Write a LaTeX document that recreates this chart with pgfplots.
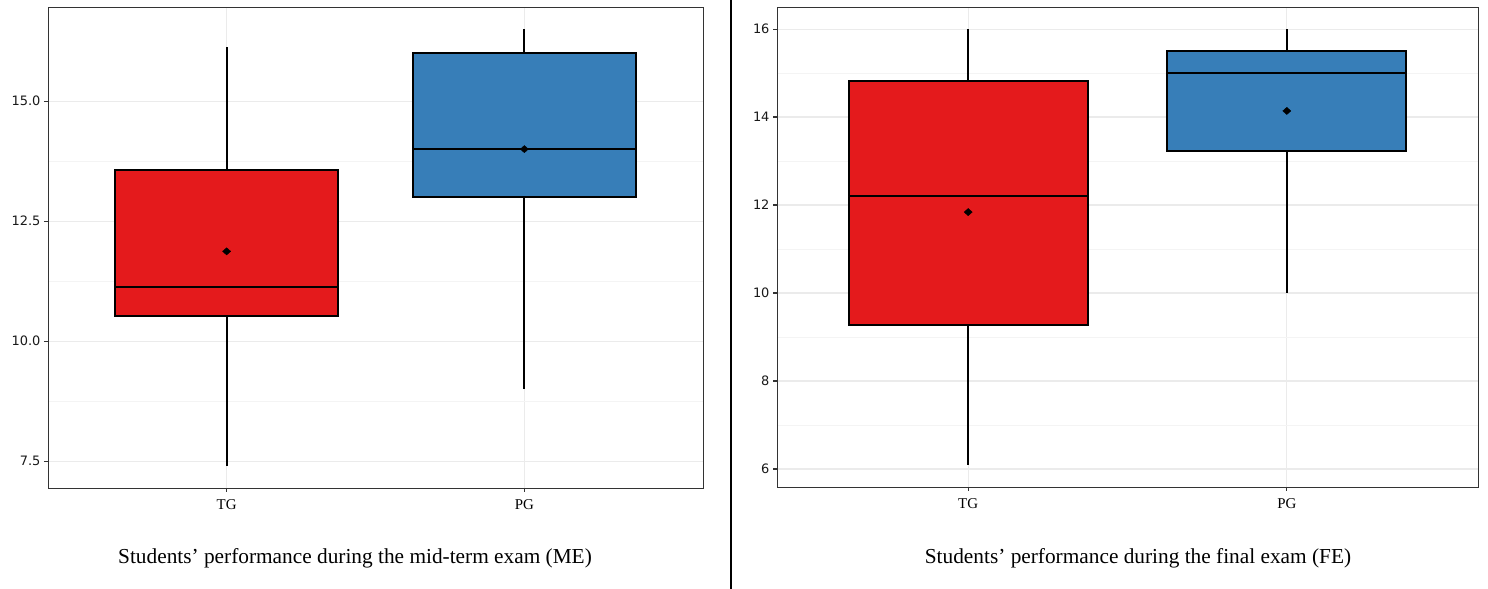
\documentclass[border=0pt]{standalone}
\usepackage{fontspec}
\setmainfont{Liberation Serif}
\newfontfamily\ticksans{DejaVu Sans}
\usepackage{pgfplots}
\usepgfplotslibrary{statistics}
\pgfplotsset{compat=1.18}

\definecolor{tgred}{HTML}{E41A1C}
\definecolor{pgblue}{HTML}{377EB8}
\definecolor{gridmaj}{HTML}{EBEBEB}
\definecolor{gridmin}{HTML}{F4F4F4}
\definecolor{frame}{HTML}{333333}

\pgfplotsset{
  panel/.style={
    scale only axis,
    xmin=0.4, xmax=2.6,
    xtick={1,2}, xticklabels={TG,PG},
    minor y tick num=1,
    grid=both,
    major grid style={gridmaj, line width=1.2pt},
    minor grid style={gridmin, line width=0.8pt},
    axis line style={frame, line width=1pt},
    tick style={frame, line width=1.2pt},
    tick align=outside,
    major tick length=4bp,
    minor tick length=0pt,
    xtick pos=left, ytick pos=left,
    x tick label style={font=\fontsize{15}{15}\selectfont, yshift=-4bp},
    y tick label style={font=\ticksans\fontsize{13}{13}\selectfont, black!90},
    /pgf/number format/assume math mode=true,
    boxplot/draw direction=y,
  },
  gbox/.style={draw=black, line width=2bp, fill=#1},
  meanmark/.style={only marks, mark=diamond*, mark size=3.6bp, mark options={xscale=1.5}, black},
}

\begin{document}
\begin{tikzpicture}
\path[use as bounding box] (0,0) rectangle (1488bp,589bp);

% mid-term exam
\begin{axis}[panel,
  at={(48bp,101bp)}, anchor=south west,
  width=655bp, height=480bp,
  ymin=6.94, ymax=16.94,
  ytick={7.5,10,12.5,15},
  yticklabel style={/pgf/number format/.cd, fixed, fixed zerofill, precision=1},
]
\addplot[gbox=tgred, boxplot prepared={draw position=1, box extend=0.75, whisker extend=0,
  lower whisker=7.4, lower quartile=10.52, median=11.12,
  upper quartile=13.56, upper whisker=16.12}] coordinates {};
\addplot[gbox=pgblue, boxplot prepared={draw position=2, box extend=0.75, whisker extend=0,
  lower whisker=9.0, lower quartile=13.0, median=14.0,
  upper quartile=16.0, upper whisker=16.5}] coordinates {};
\addplot[meanmark] coordinates {(1,11.87) (2,14.0)};
\end{axis}

% final exam
\begin{axis}[panel,
  at={(777bp,102bp)}, anchor=south west,
  width=701bp, height=479bp,
  ymin=5.59, ymax=16.48,
  ytick={6,8,10,12,14,16},
]
\addplot[gbox=tgred, boxplot prepared={draw position=1, box extend=0.75, whisker extend=0,
  lower whisker=6.1, lower quartile=9.27, median=12.2,
  upper quartile=14.82, upper whisker=16.0}] coordinates {};
\addplot[gbox=pgblue, boxplot prepared={draw position=2, box extend=0.75, whisker extend=0,
  lower whisker=10.0, lower quartile=13.24, median=15.0,
  upper quartile=15.5, upper whisker=16.0}] coordinates {};
\addplot[meanmark] coordinates {(1,11.84) (2,14.14)};
\end{axis}

\draw[line width=2.5bp] (731bp,0) -- (731bp,589bp);
\node[font=\fontsize{21.4}{21.4}\selectfont] at (355bp,31bp) {Students’ performance during the mid-term exam (ME)};
\node[font=\fontsize{21.4}{21.4}\selectfont] at (1138bp,31bp) {Students’ performance during the final exam (FE)};
\end{tikzpicture}
\end{document}
